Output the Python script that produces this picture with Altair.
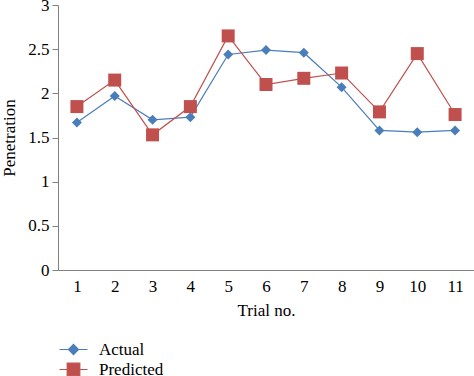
import altair as alt
import pandas as pd

trials = [1, 2, 3, 4, 5, 6, 7, 8, 9, 10, 11]
actual = [1.67, 1.97, 1.70, 1.73, 2.44, 2.49, 2.46, 2.07, 1.58, 1.56, 1.58]
predicted = [1.85, 2.15, 1.53, 1.85, 2.65, 2.10, 2.17, 2.23, 1.79, 2.45, 1.76]
series_names = ["Actual", "Predicted"]
colors = ["#4A7EBB", "#C0504D"]
y_ticks = [0, 0.5, 1, 1.5, 2, 2.5, 3]

rows = []
for t, a, p in zip(trials, actual, predicted):
    rows.append({"trial": t, "value": a, "series": "Actual"})
    rows.append({"trial": t, "value": p, "series": "Predicted"})
df = pd.DataFrame(rows)

FONT = "Liberation Serif"
AXIS_COLOR = "#808080"

x_enc = alt.X(
    "trial:O",
    title="Trial no.",
    scale=alt.Scale(type="point", padding=0.5),
    axis=alt.Axis(
        labelAngle=0, ticks=False, tickSize=0, labelPadding=8,
        titlePadding=8, domainColor=AXIS_COLOR,
    ),
)
y_enc = alt.Y(
    "value:Q",
    title="Penetration",
    scale=alt.Scale(domain=[0, 3], nice=False, zero=True),
    axis=alt.Axis(
        values=y_ticks, format="~g", grid=False, tickSize=6, labelPadding=3,
        titlePadding=9, domainColor=AXIS_COLOR, tickColor=AXIS_COLOR,
    ),
)
color_scale = alt.Scale(domain=series_names, range=colors)

legend_paths = [
    "M-2,0L2,0M0,-0.72L0.72,0L0,0.72L-0.72,0Z",
    "M-2,0L2,0M-0.9,-0.9L0.9,-0.9L0.9,0.9L-0.9,0.9Z",
]

legend_props = dict(
    title=None, orient="none", legendX=7, legendY=336,
    symbolSize=196, symbolOpacity=1, symbolStrokeWidth=1.2,
    labelFont=FONT, labelFontSize=17, labelColor="#000000",
    labelOffset=17, rowPadding=2, padding=0,
)


def color_enc():
    return alt.Color("series:N", scale=color_scale, legend=alt.Legend(**legend_props))


base = alt.Chart(df)

legend_layer = base.mark_point(filled=False, opacity=0, strokeWidth=1.2).encode(
    x=x_enc, y=y_enc,
    color=color_enc(),
    fill=alt.Fill("series:N", scale=color_scale, legend=alt.Legend(**legend_props)),
    shape=alt.Shape("series:N", scale=alt.Scale(domain=series_names, range=legend_paths),
                    legend=alt.Legend(**legend_props)),
)

lines = base.mark_line(strokeWidth=1.2).encode(
    x=x_enc, y=y_enc, color=color_enc(),
)

actual_pts = base.transform_filter(alt.datum.series == "Actual").mark_point(
    filled=True, opacity=1, shape="diamond", size=100
).encode(x=x_enc, y=y_enc, color=color_enc())

pred_pts = base.transform_filter(alt.datum.series == "Predicted").mark_point(
    filled=True, opacity=1, shape="square", size=169
).encode(x=x_enc, y=y_enc, color=color_enc())

chart = alt.layer(legend_layer, lines, actual_pts, pred_pts).properties(
    width=416, height=265,
    autosize=alt.AutoSizeParams(type="none"),
    padding={"left": 58, "top": 5, "right": 0, "bottom": 106},
).configure_view(stroke=None).configure_axis(
    labelFont=FONT, titleFont=FONT, labelFontSize=17, titleFontSize=17,
    labelColor="#000000", titleColor="#000000", titleFontWeight="normal",
).configure_legend(labelFont=FONT)

chart.save("out.html", embed_options={"renderer": "svg", "actions": False})
